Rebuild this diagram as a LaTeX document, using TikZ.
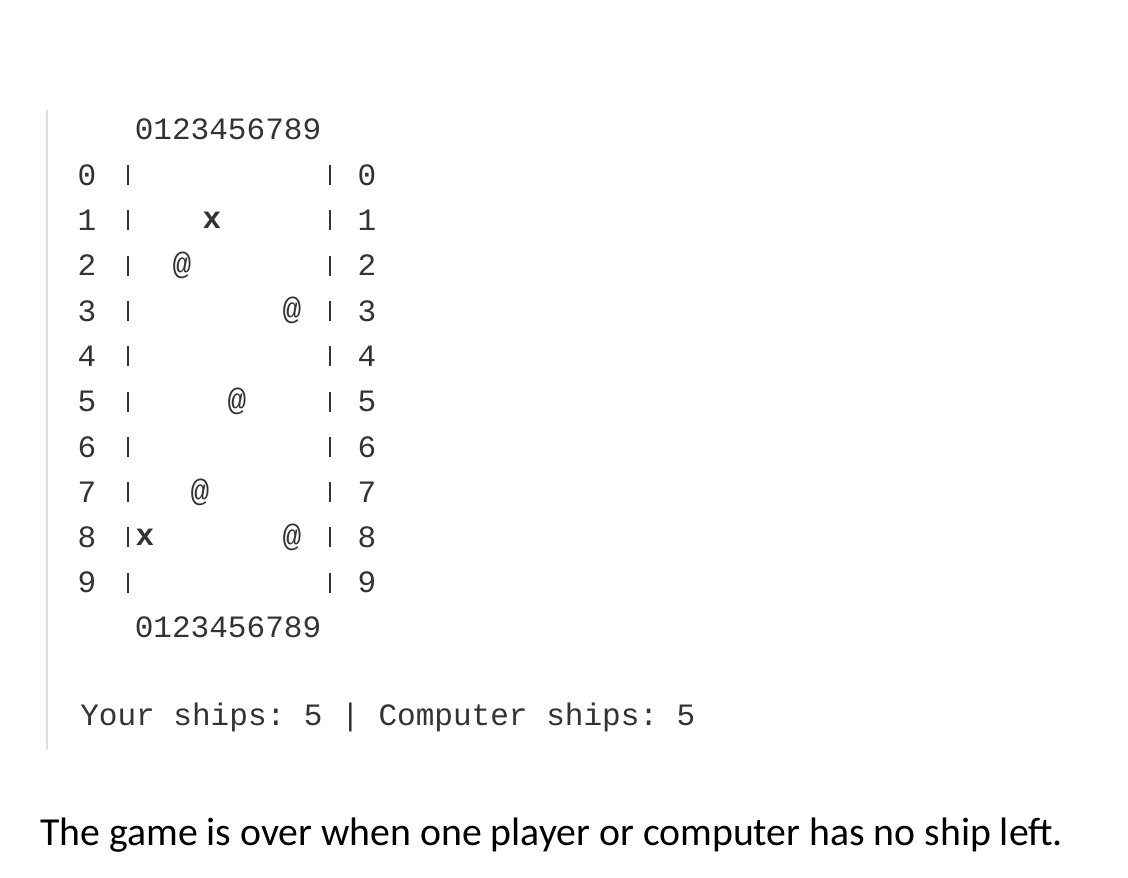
\documentclass[tikz,border=0pt]{standalone}
\usepackage{fontspec}
\setmonofont{Liberation Mono}
\newfontfamily\capfont{Carlito}
\definecolor{txt}{HTML}{333333}
\begin{document}
\begin{tikzpicture}[x=0.75pt,y=-0.75pt,
  ch/.style={text=txt,font=\ttfamily\fontsize{23.3}{27}\selectfont,inner sep=0pt},
  bar/.style={draw=txt,line width=1.4pt}]
\useasboundingbox (0,0) rectangle (1128,878);
\fill[white] (0,0) rectangle (1128,878);
\draw[gray!25,line width=1.5pt] (47,110) -- (47,750);
\node[ch] (top) at (228,129) {0123456789};
\node[ch] (bot) at (228,627) {0123456789};
\foreach \r in {0,...,9}{
  \pgfmathsetmacro{\yy}{175+45.3*\r}
  \node[ch] (l\r) at (87,\yy) {\r};
  \node[ch] (r\r) at (367,\yy) {\r};
  \draw[bar] (128,\yy-10) -- (128,\yy+10);
  \draw[bar] (330,\yy-10) -- (330,\yy+10);
}
\node[ch,font=\ttfamily\bfseries\fontsize{23.3}{27}\selectfont] (x1) at (212,220) {x};
\node[ch,font=\ttfamily\bfseries\fontsize{23.3}{27}\selectfont] (x8) at (145,537) {x};
\node[ch] (s2) at (182,265) {@};
\node[ch] (s3) at (292,310) {@};
\node[ch] (s5) at (237,401) {@};
\node[ch] (s7) at (200,492) {@};
\node[ch] (s8) at (292,537) {@};
\node[ch,anchor=west] (stat) at (80,717) {Your ships: 5 | Computer ships: 5};
\node[anchor=west,inner sep=0pt,font=\capfont\fontsize{29.8}{34}\selectfont] (cap) at (40,835) {The game is over when one player or computer has no ship left.};
\end{tikzpicture}
\end{document}
